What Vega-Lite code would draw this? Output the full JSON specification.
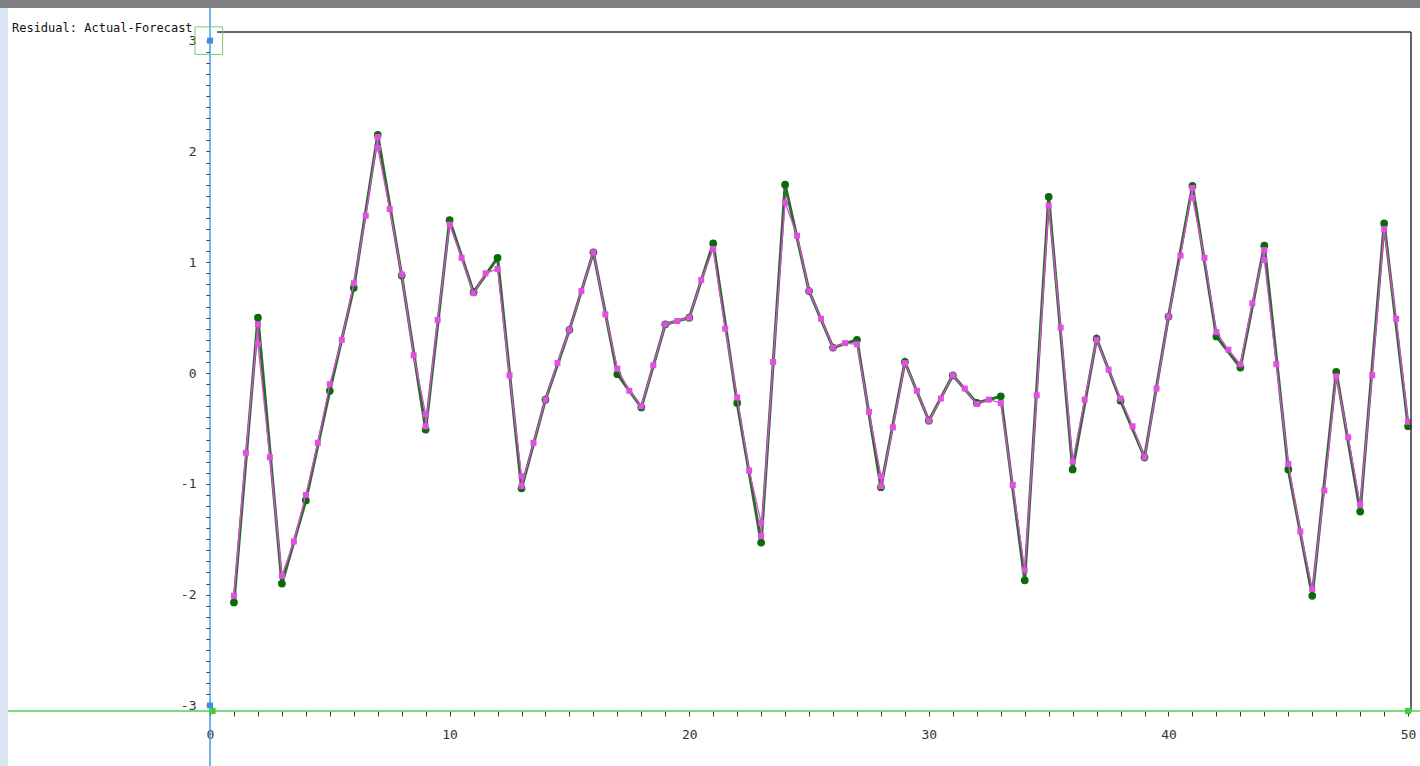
{
  "$schema": "https://vega.github.io/schema/vega-lite/v6.json",
  "width": 1201,
  "height": 679,
  "autosize": {"type": "none"},
  "padding": {"left": 210, "top": 32, "right": 9, "bottom": 55},
  "background": "white",
  "config": {
    "view": {"stroke": null},
    "axis": {"labelFont": "DejaVu Sans Mono", "labelFontSize": 13, "labelColor": "#333", "tickColor": "#333", "domain": false, "grid": false, "labelOverlap": false, "labelFlush": false}
  },
  "datasets": {
    "actual": [
      {"t": 1, "r": -2.07}, {"t": 2, "r": 0.50}, {"t": 3, "r": -1.90}, {"t": 4, "r": -1.15}, {"t": 5, "r": -0.16},
      {"t": 6, "r": 0.77}, {"t": 7, "r": 2.15}, {"t": 8, "r": 0.88}, {"t": 9, "r": -0.51}, {"t": 10, "r": 1.38},
      {"t": 11, "r": 0.73}, {"t": 12, "r": 1.04}, {"t": 13, "r": -1.04}, {"t": 14, "r": -0.24}, {"t": 15, "r": 0.39},
      {"t": 16, "r": 1.09}, {"t": 17, "r": -0.01}, {"t": 18, "r": -0.31}, {"t": 19, "r": 0.44}, {"t": 20, "r": 0.50},
      {"t": 21, "r": 1.17}, {"t": 22, "r": -0.27}, {"t": 23, "r": -1.53}, {"t": 24, "r": 1.70}, {"t": 25, "r": 0.74},
      {"t": 26, "r": 0.23}, {"t": 27, "r": 0.30}, {"t": 28, "r": -1.03}, {"t": 29, "r": 0.10}, {"t": 30, "r": -0.43},
      {"t": 31, "r": -0.02}, {"t": 32, "r": -0.27}, {"t": 33, "r": -0.21}, {"t": 34, "r": -1.87}, {"t": 35, "r": 1.59},
      {"t": 36, "r": -0.87}, {"t": 37, "r": 0.31}, {"t": 38, "r": -0.25}, {"t": 39, "r": -0.76}, {"t": 40, "r": 0.51},
      {"t": 41, "r": 1.69}, {"t": 42, "r": 0.33}, {"t": 43, "r": 0.05}, {"t": 44, "r": 1.15}, {"t": 45, "r": -0.87},
      {"t": 46, "r": -2.01}, {"t": 47, "r": 0.01}, {"t": 48, "r": -1.25}, {"t": 49, "r": 1.35}, {"t": 50, "r": -0.48}
    ],
    "forecast": [
      {"i": 1, "t": 1, "r": -2.01}, {"i": 2, "t": 1.5, "r": -0.72}, {"i": 3, "t": 2, "r": 0.44}, {"i": 4, "t": 2, "r": 0.26},
      {"i": 5, "t": 2.5, "r": -0.76}, {"i": 6, "t": 3, "r": -1.83}, {"i": 7, "t": 3.5, "r": -1.52}, {"i": 8, "t": 4, "r": -1.10},
      {"i": 9, "t": 4.5, "r": -0.63}, {"i": 10, "t": 5, "r": -0.10}, {"i": 11, "t": 5.5, "r": 0.30}, {"i": 12, "t": 6, "r": 0.81},
      {"i": 13, "t": 6.5, "r": 1.42}, {"i": 14, "t": 7, "r": 2.13}, {"i": 15, "t": 7, "r": 2.03}, {"i": 16, "t": 7.5, "r": 1.48},
      {"i": 17, "t": 8, "r": 0.89}, {"i": 18, "t": 8.5, "r": 0.16}, {"i": 19, "t": 9, "r": -0.37}, {"i": 20, "t": 9, "r": -0.48},
      {"i": 21, "t": 9.5, "r": 0.48}, {"i": 22, "t": 10, "r": 1.34}, {"i": 23, "t": 10.5, "r": 1.04}, {"i": 24, "t": 11, "r": 0.72},
      {"i": 25, "t": 11.5, "r": 0.90}, {"i": 26, "t": 12, "r": 0.94}, {"i": 27, "t": 12.5, "r": -0.02}, {"i": 28, "t": 13, "r": -0.93},
      {"i": 29, "t": 13, "r": -1.02}, {"i": 30, "t": 13.5, "r": -0.63}, {"i": 31, "t": 14, "r": -0.24}, {"i": 32, "t": 14.5, "r": 0.09},
      {"i": 33, "t": 15, "r": 0.39}, {"i": 34, "t": 15.5, "r": 0.74}, {"i": 35, "t": 16, "r": 1.09}, {"i": 36, "t": 16.5, "r": 0.53},
      {"i": 37, "t": 17, "r": 0.04}, {"i": 38, "t": 17.5, "r": -0.16}, {"i": 39, "t": 18, "r": -0.30}, {"i": 40, "t": 18.5, "r": 0.07},
      {"i": 41, "t": 19, "r": 0.44}, {"i": 42, "t": 19.5, "r": 0.47}, {"i": 43, "t": 20, "r": 0.50}, {"i": 44, "t": 20.5, "r": 0.84},
      {"i": 45, "t": 21, "r": 1.12}, {"i": 46, "t": 21.5, "r": 0.40}, {"i": 47, "t": 22, "r": -0.22}, {"i": 48, "t": 22.5, "r": -0.88},
      {"i": 49, "t": 23, "r": -1.35}, {"i": 50, "t": 23, "r": -1.47}, {"i": 51, "t": 23.5, "r": 0.10}, {"i": 52, "t": 24, "r": 1.54},
      {"i": 53, "t": 24.5, "r": 1.24}, {"i": 54, "t": 25, "r": 0.74}, {"i": 55, "t": 25.5, "r": 0.49}, {"i": 56, "t": 26, "r": 0.23},
      {"i": 57, "t": 26.5, "r": 0.27}, {"i": 58, "t": 27, "r": 0.26}, {"i": 59, "t": 27.5, "r": -0.35}, {"i": 60, "t": 28, "r": -0.93},
      {"i": 61, "t": 28, "r": -1.02}, {"i": 62, "t": 28.5, "r": -0.49}, {"i": 63, "t": 29, "r": 0.09}, {"i": 64, "t": 29.5, "r": -0.16},
      {"i": 65, "t": 30, "r": -0.43}, {"i": 66, "t": 30.5, "r": -0.23}, {"i": 67, "t": 31, "r": -0.02}, {"i": 68, "t": 31.5, "r": -0.14},
      {"i": 69, "t": 32, "r": -0.28}, {"i": 70, "t": 32.5, "r": -0.24}, {"i": 71, "t": 33, "r": -0.27}, {"i": 72, "t": 33.5, "r": -1.01},
      {"i": 73, "t": 34, "r": -1.78}, {"i": 74, "t": 34.5, "r": -0.20}, {"i": 75, "t": 35, "r": 1.51}, {"i": 76, "t": 35.5, "r": 0.41},
      {"i": 77, "t": 36, "r": -0.80}, {"i": 78, "t": 36.5, "r": -0.24}, {"i": 79, "t": 37, "r": 0.30}, {"i": 80, "t": 37.5, "r": 0.03},
      {"i": 81, "t": 38, "r": -0.23}, {"i": 82, "t": 38.5, "r": -0.48}, {"i": 83, "t": 39, "r": -0.76}, {"i": 84, "t": 39.5, "r": -0.14},
      {"i": 85, "t": 40, "r": 0.51}, {"i": 86, "t": 40.5, "r": 1.06}, {"i": 87, "t": 41, "r": 1.67}, {"i": 88, "t": 41, "r": 1.58},
      {"i": 89, "t": 41.5, "r": 1.04}, {"i": 90, "t": 42, "r": 0.37}, {"i": 91, "t": 42.5, "r": 0.21}, {"i": 92, "t": 43, "r": 0.08},
      {"i": 93, "t": 43.5, "r": 0.63}, {"i": 94, "t": 44, "r": 1.11}, {"i": 95, "t": 44, "r": 1.02}, {"i": 96, "t": 44.5, "r": 0.08},
      {"i": 97, "t": 45, "r": -0.82}, {"i": 98, "t": 45.5, "r": -1.43}, {"i": 99, "t": 46, "r": -1.95}, {"i": 100, "t": 46.5, "r": -1.06},
      {"i": 101, "t": 47, "r": -0.03}, {"i": 102, "t": 47.5, "r": -0.58}, {"i": 103, "t": 48, "r": -1.19}, {"i": 104, "t": 48.5, "r": -0.02},
      {"i": 105, "t": 49, "r": 1.30}, {"i": 106, "t": 49.5, "r": 0.49}, {"i": 107, "t": 50, "r": -0.44}
    ]
  },
  "layer": [
    {
      "data": {"name": "actual"},
      "mark": {"type": "line", "color": "#2f6a2f", "strokeWidth": 3},
      "encoding": {
        "x": {"field": "t", "type": "quantitative", "scale": {"domain": [0, 50.12], "nice": false, "zero": false},
          "axis": {"title": null, "tickCount": 500, "values": [0,1,2,3,4,5,6,7,8,9,10,11,12,13,14,15,16,17,18,19,20,21,22,23,24,25,26,27,28,29,30,31,32,33,34,35,36,37,38,39,40,41,42,43,44,45,46,47,48,49,50],
            "labelExpr": "datum.value % 10 === 0 ? '' + datum.value : ''", "tickSize": 5, "labelPadding": 12}},
        "y": {"field": "r", "type": "quantitative", "scale": {"domain": [-3.05, 3.078], "nice": false, "zero": false},
          "axis": {"title": null, "tickCount": 500, "values": [-3,-2.9,-2.8,-2.7,-2.6,-2.5,-2.4,-2.3,-2.2,-2.1,-2,-1.9,-1.8,-1.7,-1.6,-1.5,-1.4,-1.3,-1.2,-1.1,-1,-0.9,-0.8,-0.7,-0.6,-0.5,-0.4,-0.3,-0.2,-0.1,0,0.1,0.2,0.3,0.4,0.5,0.6,0.7,0.8,0.9,1,1.1,1.2,1.3,1.4,1.5,1.6,1.7,1.8,1.9,2,2.1,2.2,2.3,2.4,2.5,2.6,2.7,2.8,2.9,3],
            "labelExpr": "abs(datum.value - round(datum.value)) < 0.001 ? '' + round(datum.value) : ''", "tickSize": 4, "labelPadding": 10}}
      }
    },
    {
      "data": {"name": "actual"},
      "mark": {"type": "point", "shape": "circle", "filled": true, "color": "#0b6b0b", "size": 60, "opacity": 1},
      "encoding": {
        "x": {"field": "t", "type": "quantitative", "axis": {"title": null}},
        "y": {"field": "r", "type": "quantitative", "axis": {"title": null}}
      }
    },
    {
      "data": {"name": "forecast"},
      "mark": {"type": "line", "color": "#d84fd8", "strokeWidth": 1.3},
      "encoding": {
        "x": {"field": "t", "type": "quantitative", "axis": {"title": null}},
        "y": {"field": "r", "type": "quantitative", "axis": {"title": null}},
        "order": {"field": "i", "type": "quantitative"}
      }
    },
    {
      "data": {"name": "forecast"},
      "mark": {"type": "point", "shape": "square", "filled": true, "color": "#e050e0", "size": 36, "opacity": 1},
      "encoding": {
        "x": {"field": "t", "type": "quantitative", "axis": {"title": null}},
        "y": {"field": "r", "type": "quantitative", "axis": {"title": null}}
      }
    },
    {
      "data": {"values": [{}]},
      "layer": [
        {"mark": {"type": "rect", "clip": false, "color": "#7f7e82"},
         "encoding": {"x": {"datum": -8.77, "type": "quantitative", "axis": {"title": null}}, "x2": {"datum": 50.5}, "y": {"datum": 3.37, "type": "quantitative", "axis": {"title": null}}, "y2": {"datum": 3.295}}},
        {"mark": {"type": "rect", "clip": false, "color": "#d9e5f3"},
         "encoding": {"x": {"datum": -8.77, "type": "quantitative", "axis": {"title": null}}, "x2": {"datum": -8.43}, "y": {"datum": 3.295, "type": "quantitative", "axis": {"title": null}}, "y2": {"datum": -3.55}}},
        {"mark": {"type": "rule", "clip": false, "color": "#333", "strokeWidth": 1.5},
         "encoding": {"x": {"datum": 0.3, "type": "quantitative", "axis": {"title": null}}, "x2": {"datum": 50.12}, "y": {"datum": 3.078, "type": "quantitative", "axis": {"title": null}}}},
        {"mark": {"type": "rule", "clip": false, "color": "#333", "strokeWidth": 1.5},
         "encoding": {"x": {"datum": 50.12, "type": "quantitative", "axis": {"title": null}}, "y": {"datum": 3.078, "type": "quantitative", "axis": {"title": null}}, "y2": {"datum": -3.05}}},
        {"mark": {"type": "rule", "clip": false, "color": "#55cc55", "strokeWidth": 1.5},
         "encoding": {"x": {"datum": -8.43, "type": "quantitative", "axis": {"title": null}}, "x2": {"datum": 50.5}, "y": {"datum": -3.05, "type": "quantitative", "axis": {"title": null}}}},
        {"mark": {"type": "rule", "clip": false, "color": "#4a9be8", "strokeWidth": 1.5},
         "encoding": {"x": {"datum": 0, "type": "quantitative", "axis": {"title": null}}, "y": {"datum": 3.295, "type": "quantitative", "axis": {"title": null}}, "y2": {"datum": -3.55}}},
        {"mark": {"type": "point", "shape": "square", "filled": false, "clip": false, "color": "#77cc77", "strokeWidth": 1, "size": 760, "opacity": 1},
         "encoding": {"x": {"datum": -0.05, "type": "quantitative", "axis": {"title": null}}, "y": {"datum": 3.0, "type": "quantitative", "axis": {"title": null}}}},
        {"mark": {"type": "point", "shape": "square", "filled": true, "clip": false, "color": "#3d8fe8", "size": 36, "opacity": 1},
         "encoding": {"x": {"datum": 0, "type": "quantitative", "axis": {"title": null}}, "y": {"datum": 3.0, "type": "quantitative", "axis": {"title": null}}}},
        {"mark": {"type": "point", "shape": "square", "filled": true, "clip": false, "color": "#3d8fe8", "size": 36, "opacity": 1},
         "encoding": {"x": {"datum": 0, "type": "quantitative", "axis": {"title": null}}, "y": {"datum": -3.0, "type": "quantitative", "axis": {"title": null}}}},
        {"mark": {"type": "point", "shape": "square", "filled": true, "clip": false, "color": "#44cc44", "size": 40, "opacity": 1},
         "encoding": {"x": {"datum": 0.1, "type": "quantitative", "axis": {"title": null}}, "y": {"datum": -3.05, "type": "quantitative", "axis": {"title": null}}}},
        {"mark": {"type": "point", "shape": "square", "filled": true, "clip": false, "color": "#44cc44", "size": 40, "opacity": 1},
         "encoding": {"x": {"datum": 50, "type": "quantitative", "axis": {"title": null}}, "y": {"datum": -3.05, "type": "quantitative", "axis": {"title": null}}}},
        {"mark": {"type": "text", "clip": false, "align": "left", "baseline": "alphabetic", "font": "DejaVu Sans Mono", "fontSize": 12, "color": "#111"},
         "encoding": {"x": {"datum": -8.264, "type": "quantitative", "axis": {"title": null}}, "y": {"datum": 3.0735, "type": "quantitative", "axis": {"title": null}}, "text": {"value": "Residual: Actual-Forecast"}}}
      ]
    }
  ]
}
